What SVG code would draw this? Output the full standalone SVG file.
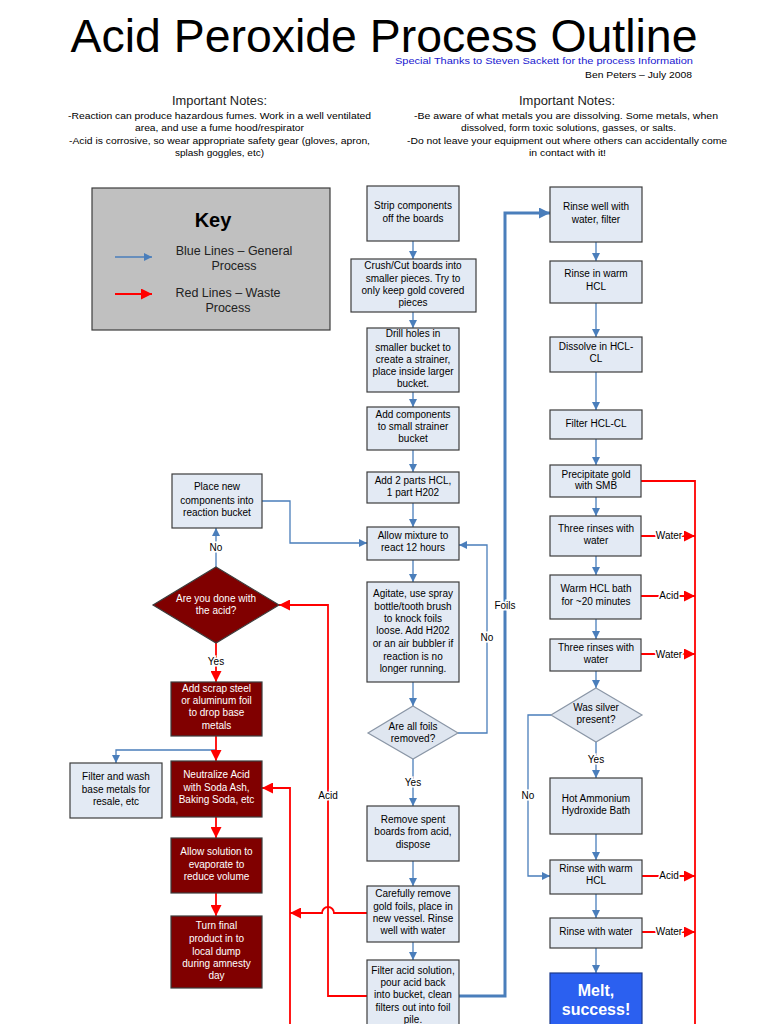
<svg xmlns="http://www.w3.org/2000/svg" width="768" height="1024" viewBox="0 0 768 1024">
<defs>
<marker id="ab" viewBox="0 0 10 10" refX="10" refY="5" markerWidth="8" markerHeight="8" markerUnits="userSpaceOnUse" orient="auto"><path d="M0,0 L10,5 L0,10 z" fill="#4a7ebb"/></marker>
<marker id="abk" viewBox="0 0 10 10" refX="10" refY="5" markerWidth="11" markerHeight="11" markerUnits="userSpaceOnUse" orient="auto"><path d="M0,0 L10,5 L0,10 z" fill="#4a7ebb"/></marker>
<marker id="ar" viewBox="0 0 10 10" refX="10" refY="5" markerWidth="11" markerHeight="11" markerUnits="userSpaceOnUse" orient="auto"><path d="M0,0 L10,5 L0,10 z" fill="#ff0000"/></marker>
</defs>
<style>
text{font-family:"Liberation Sans",Arial,sans-serif;}
.n{fill:#e3eaf4;stroke:#3c3c3c;stroke-width:1.2;}
.d{fill:#800000;stroke:#3c3c3c;stroke-width:1.2;}
.dm{fill:#dfe6f0;stroke:#8a96a6;stroke-width:1.2;}
.t{font-size:10px;fill:#000;text-anchor:middle;}
.tw{font-size:10px;fill:#fff;text-anchor:middle;}
.b{fill:none;stroke:#4a7ebb;stroke-width:1.3;}
.bk{fill:none;stroke:#4a7ebb;stroke-width:3;}
.r{fill:none;stroke:#ff0000;stroke-width:1.8;}
.lb{font-size:10px;fill:#000;text-anchor:middle;stroke:#fff;stroke-width:3;paint-order:stroke;}
.note{font-size:9.5px;fill:#000;text-anchor:middle;}
.nh{font-size:12px;fill:#222;text-anchor:middle;}
</style>

<g id="header">
<text x="384" y="52" font-size="46.5" text-anchor="middle" textLength="627" lengthAdjust="spacingAndGlyphs">Acid Peroxide Process Outline</text>
<text x="693" y="64" font-size="9.5" fill="#2020d0" text-anchor="end" textLength="298" lengthAdjust="spacingAndGlyphs">Special Thanks to Steven Sackett for the process Information</text>
<text x="692" y="78" font-size="9.5" fill="#000" text-anchor="end" textLength="107" lengthAdjust="spacingAndGlyphs">Ben Peters – July 2008</text>
</g>

<g id="notes-left">
<text class="nh" x="219.5" y="105" textLength="95" lengthAdjust="spacingAndGlyphs">Important Notes:</text>
<text class="note" x="219.5" y="119" textLength="303" lengthAdjust="spacingAndGlyphs">-Reaction can produce hazardous fumes.  Work in a well ventilated</text>
<text class="note" x="219.5" y="131" textLength="169" lengthAdjust="spacingAndGlyphs">area, and use a fume hood/respirator</text>
<text class="note" x="219.5" y="144" textLength="301" lengthAdjust="spacingAndGlyphs">-Acid is corrosive, so wear appropriate safety gear (gloves, apron,</text>
<text class="note" x="219.5" y="156" textLength="89" lengthAdjust="spacingAndGlyphs">splash goggles, etc)</text>
</g>

<g id="notes-right">
<text class="nh" x="567" y="105" textLength="96" lengthAdjust="spacingAndGlyphs">Important Notes:</text>
<text class="note" x="566" y="119" textLength="304" lengthAdjust="spacingAndGlyphs">-Be aware of what metals you are dissolving.  Some metals, when</text>
<text class="note" x="568.5" y="131" textLength="215" lengthAdjust="spacingAndGlyphs">dissolved, form toxic solutions, gasses, or salts.</text>
<text class="note" x="567" y="144" textLength="320" lengthAdjust="spacingAndGlyphs">-Do not leave your equipment out where others can accidentally come</text>
<text class="note" x="567.5" y="156" textLength="77" lengthAdjust="spacingAndGlyphs">in contact with it!</text>
</g>

<g id="key">
<rect x="92" y="188" width="238" height="142" fill="#c0c0c0" stroke="#3c3c3c" stroke-width="1.2"/>
<text x="213" y="227" font-size="20" font-weight="bold" text-anchor="middle">Key</text>
<line x1="115" y1="257" x2="152" y2="257" class="b" marker-end="url(#ab)"/>
<line x1="115" y1="294" x2="152" y2="294" class="r" stroke-width="1.4" marker-end="url(#ar)"/>
<text x="234" y="255" font-size="12.5" fill="#222" text-anchor="middle">Blue Lines – General</text>
<text x="234" y="270" font-size="12.5" fill="#222" text-anchor="middle">Process</text>
<text x="228" y="297" font-size="12.5" fill="#222" text-anchor="middle">Red Lines – Waste</text>
<text x="228" y="312" font-size="12.5" fill="#222" text-anchor="middle">Process</text>
</g>

<g id="connectors">
<!-- middle column -->
<path class="b" d="M413,241 V259" marker-end="url(#ab)"/>
<path class="b" d="M413,312 V328" marker-end="url(#ab)"/>
<path class="b" d="M413,392 V407" marker-end="url(#ab)"/>
<path class="b" d="M413,450 V472" marker-end="url(#ab)"/>
<path class="b" d="M413,503 V527" marker-end="url(#ab)"/>
<path class="b" d="M413,560 V582" marker-end="url(#ab)"/>
<path class="b" d="M413,682 V706" marker-end="url(#ab)"/>
<path class="b" d="M413,759 V806" marker-end="url(#ab)"/>
<path class="b" d="M413,861 V886" marker-end="url(#ab)"/>
<path class="b" d="M413,942 V960" marker-end="url(#ab)"/>
<!-- right column -->
<path class="b" d="M596,242 V261" marker-end="url(#ab)"/>
<path class="b" d="M596,303 V337" marker-end="url(#ab)"/>
<path class="b" d="M596,372 V410" marker-end="url(#ab)"/>
<path class="b" d="M596,439 V465" marker-end="url(#ab)"/>
<path class="b" d="M596,497 V516" marker-end="url(#ab)"/>
<path class="b" d="M596,556 V575" marker-end="url(#ab)"/>
<path class="b" d="M596,619 V639" marker-end="url(#ab)"/>
<path class="b" d="M596,671 V688" marker-end="url(#ab)"/>
<path class="b" d="M596,742 V778" marker-end="url(#ab)"/>
<path class="b" d="M596,834 V860" marker-end="url(#ab)"/>
<path class="b" d="M596,894 V918" marker-end="url(#ab)"/>
<path class="b" d="M596,948 V973" marker-end="url(#ab)"/>
<!-- loops -->
<path class="b" d="M216,567 V528" marker-end="url(#ab)"/>
<path class="b" d="M262,501 H290 V543 H367" marker-end="url(#ab)"/>
<path class="b" d="M458,733 H487 V545 H459" marker-end="url(#ab)"/>
<path class="bk" d="M459,996 H505 V213 H550" marker-end="url(#abk)"/>
<path class="b" d="M551,715 H528 V876 H550" marker-end="url(#ab)"/>
<path class="b" d="M216,750 H116 V763" marker-end="url(#ab)"/>
<!-- red waste -->
<path class="r" d="M216,643 V682" marker-end="url(#ar)"/>
<path class="r" d="M216,736 V761" marker-end="url(#ar)"/>
<path class="r" d="M216,817 V838" marker-end="url(#ar)"/>
<path class="r" d="M216,893 V916" marker-end="url(#ar)"/>
<path class="r" d="M367,996 H328 V605 H279" marker-end="url(#ar)"/>
<path class="r" d="M367,913 H334 A6,6 0 0 0 322,913 H290" marker-end="url(#ar)"/>
<path class="r" d="M290,1024 V788 H262" marker-end="url(#ar)"/>
<path class="r" d="M641,481 H695 V1024"/>
<path class="r" d="M641,536 H695" marker-end="url(#ar)"/>
<path class="r" d="M641,596 H695" marker-end="url(#ar)"/>
<path class="r" d="M641,654 H695" marker-end="url(#ar)"/>
<path class="r" d="M641,876 H695" marker-end="url(#ar)"/>
<path class="r" d="M641,932 H695" marker-end="url(#ar)"/>
<!-- labels -->
<text class="lb" x="413" y="786">Yes</text>
<text class="lb" x="596" y="763">Yes</text>
<text class="lb" x="216" y="551">No</text>
<text class="lb" x="216" y="665">Yes</text>
<text class="lb" x="487" y="641">No</text>
<text class="lb" x="505" y="609">Foils</text>
<text class="lb" x="528" y="799">No</text>
<text class="lb" x="328" y="799">Acid</text>
<text class="lb" x="669" y="539">Water</text>
<text class="lb" x="669" y="599">Acid</text>
<text class="lb" x="669" y="658">Water</text>
<text class="lb" x="669" y="879">Acid</text>
<text class="lb" x="669" y="935">Water</text>
</g>

<g id="n-strip"><rect class="n" x="367" y="186" width="92" height="55"/>
<text class="t" x="413" y="209">Strip components</text><text class="t" x="413" y="222">off the boards</text></g>
<g id="n-crush"><rect class="n" x="351" y="259" width="125" height="53"/>
<text class="t" x="413" y="269">Crush/Cut boards into</text><text class="t" x="413" y="282">smaller pieces.  Try to</text><text class="t" x="413" y="294">only keep gold covered</text><text class="t" x="413" y="306">pieces</text></g>
<g id="n-drill"><rect class="n" x="367" y="328" width="92" height="64"/>
<text class="t" x="413" y="337">Drill holes in</text><text class="t" x="413" y="351">smaller bucket to</text><text class="t" x="413" y="363">create a strainer,</text><text class="t" x="413" y="375">place inside larger</text><text class="t" x="413" y="387">bucket.</text></g>
<g id="n-addcomp"><rect class="n" x="367" y="407" width="92" height="43"/>
<text class="t" x="413" y="418">Add components</text><text class="t" x="413" y="430">to small strainer</text><text class="t" x="413" y="442">bucket</text></g>
<g id="n-add2"><rect class="n" x="367" y="472" width="92" height="31"/>
<text class="t" x="413" y="484">Add 2 parts HCL,</text><text class="t" x="413" y="496">1 part H202</text></g>
<g id="n-allow"><rect class="n" x="367" y="527" width="92" height="33"/>
<text class="t" x="413" y="539">Allow mixture to</text><text class="t" x="413" y="551">react 12 hours</text></g>
<g id="n-agitate"><rect class="n" x="367" y="582" width="92" height="100"/>
<text class="t" x="413" y="597">Agitate, use spray</text><text class="t" x="413" y="610">bottle/tooth brush</text><text class="t" x="413" y="622">to knock foils</text><text class="t" x="413" y="634">loose.  Add H202</text><text class="t" x="413" y="647">or an air bubbler if</text><text class="t" x="413" y="660">reaction is no</text><text class="t" x="413" y="672">longer running.</text></g>
<g id="n-foils"><polygon class="dm" points="413,706 458,733 413,759 368,733"/>
<text class="t" x="413" y="730">Are all foils</text><text class="t" x="413" y="742">removed?</text></g>
<g id="n-remove"><rect class="n" x="367" y="806" width="92" height="55"/>
<text class="t" x="413" y="823">Remove spent</text><text class="t" x="413" y="835">boards from acid,</text><text class="t" x="413" y="848">dispose</text></g>
<g id="n-carefully"><rect class="n" x="367" y="886" width="92" height="56"/>
<text class="t" x="413" y="897">Carefully remove</text><text class="t" x="413" y="910">gold foils, place in</text><text class="t" x="413" y="922">new vessel.  Rinse</text><text class="t" x="413" y="934">well with water</text></g>
<g id="n-filteracid"><rect class="n" x="367" y="960" width="92" height="70"/>
<text class="t" x="413" y="974">Filter acid solution,</text><text class="t" x="413" y="986">pour acid back</text><text class="t" x="413" y="998">into bucket, clean</text><text class="t" x="413" y="1011">filters out into foil</text><text class="t" x="413" y="1023">pile.</text></g>

<g id="n-placenew"><rect class="n" x="172" y="474" width="90" height="54"/>
<text class="t" x="217" y="490">Place new</text><text class="t" x="217" y="504">components into</text><text class="t" x="217" y="516">reaction bucket</text></g>
<g id="n-done"><polygon class="d" points="216,567 279,605 216,643 153,605"/>
<text class="tw" x="216" y="602">Are you done with</text><text class="tw" x="216" y="614">the acid?</text></g>
<g id="n-scrap"><rect class="d" x="171" y="682" width="91" height="54"/>
<text class="tw" x="216.5" y="692">Add scrap steel</text><text class="tw" x="216.5" y="704">or aluminum foil</text><text class="tw" x="216.5" y="716">to drop base</text><text class="tw" x="216.5" y="729">metals</text></g>
<g id="n-filterwash"><rect class="n" x="70" y="763" width="92" height="55"/>
<text class="t" x="116" y="780">Filter and wash</text><text class="t" x="116" y="793">base metals for</text><text class="t" x="116" y="805">resale, etc</text></g>
<g id="n-neutralize"><rect class="d" x="171" y="761" width="91" height="56"/>
<text class="tw" x="216.5" y="778">Neutralize Acid</text><text class="tw" x="216.5" y="791">with Soda Ash,</text><text class="tw" x="216.5" y="803">Baking Soda, etc</text></g>
<g id="n-evaporate"><rect class="d" x="171" y="838" width="91" height="55"/>
<text class="tw" x="216.5" y="855">Allow solution to</text><text class="tw" x="216.5" y="868">evaporate to</text><text class="tw" x="216.5" y="880">reduce volume</text></g>
<g id="n-turn"><rect class="d" x="171" y="916" width="91" height="72"/>
<text class="tw" x="216.5" y="929">Turn final</text><text class="tw" x="216.5" y="942">product in to</text><text class="tw" x="216.5" y="955">local dump</text><text class="tw" x="216.5" y="967">during amnesty</text><text class="tw" x="216.5" y="979">day</text></g>

<g id="n-rinsewell"><rect class="n" x="550" y="187" width="92" height="55"/>
<text class="t" x="596" y="210">Rinse well with</text><text class="t" x="596" y="223">water, filter</text></g>
<g id="n-rinsewarm"><rect class="n" x="550" y="261" width="92" height="42"/>
<text class="t" x="596" y="277">Rinse in warm</text><text class="t" x="596" y="290">HCL</text></g>
<g id="n-dissolve"><rect class="n" x="550" y="337" width="92" height="35"/>
<text class="t" x="596" y="350">Dissolve in HCL-</text><text class="t" x="596" y="362">CL</text></g>
<g id="n-filterhcl"><rect class="n" x="550" y="410" width="92" height="29"/>
<text class="t" x="596" y="427">Filter HCL-CL</text></g>
<g id="n-precip"><rect class="n" x="550" y="465" width="91" height="32"/>
<text class="t" x="596" y="478">Precipitate gold</text><text class="t" x="596" y="489">with SMB</text></g>
<g id="n-rinses1"><rect class="n" x="550" y="516" width="91" height="40"/>
<text class="t" x="596" y="532">Three rinses with</text><text class="t" x="596" y="544">water</text></g>
<g id="n-warmbath"><rect class="n" x="550" y="575" width="91" height="44"/>
<text class="t" x="596" y="592">Warm HCL bath</text><text class="t" x="596" y="605">for ~20 minutes</text></g>
<g id="n-rinses2"><rect class="n" x="550" y="639" width="91" height="32"/>
<text class="t" x="596" y="651">Three rinses with</text><text class="t" x="596" y="663">water</text></g>
<g id="n-silver"><polygon class="dm" points="596,688 642,715 596,742 551,715"/>
<text class="t" x="596" y="711">Was silver</text><text class="t" x="596" y="723">present?</text></g>
<g id="n-ammonium"><rect class="n" x="550" y="778" width="92" height="56"/>
<text class="t" x="596" y="802">Hot Ammonium</text><text class="t" x="596" y="814">Hydroxide Bath</text></g>
<g id="n-rinsehcl"><rect class="n" x="550" y="860" width="92" height="34"/>
<text class="t" x="596" y="872">Rinse with warm</text><text class="t" x="596" y="884">HCL</text></g>
<g id="n-rinsewater"><rect class="n" x="550" y="918" width="92" height="30"/>
<text class="t" x="596" y="935">Rinse with water</text></g>
<g id="n-melt"><rect x="550" y="973" width="92" height="60" fill="#2b60f0" stroke="#1c3a8c" stroke-width="1.2"/>
<text x="596" y="996" font-size="16" font-weight="bold" fill="#fff" text-anchor="middle">Melt,</text>
<text x="596" y="1015" font-size="16" font-weight="bold" fill="#fff" text-anchor="middle">success!</text></g>
</svg>
